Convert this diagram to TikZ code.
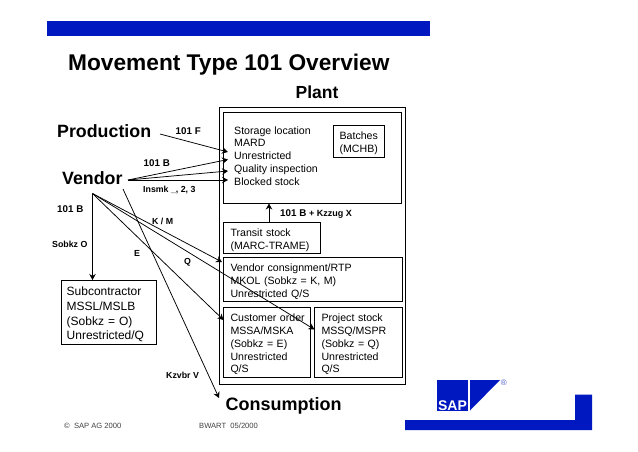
\documentclass[tikz,border=0pt]{standalone}
\usepackage{fontspec}
\setmainfont{Liberation Sans}
\usetikzlibrary{arrows.meta}
\definecolor{sapblue}{RGB}{0,24,192}
\newcommand{\fs}[1]{\fontsize{#1}{#1}\selectfont}
\newcommand{\topgap}[1]{\rule{0pt}{#1pt}}
\tikzset{
  x=1pt,y=-1pt,
  box/.style={draw=black,line width=0.8pt,anchor=north west,inner sep=0pt,outer sep=0pt},
  txtbox/.style={box,align=left,font=\fs{10.6},execute at begin node={\baselineskip=12.75pt}},
  flow/.style={draw=black,line width=0.75pt,-{Stealth[length=6pt,width=6.5pt]}},
  head/.style={font=\bfseries\fs{17.8},anchor=base west,inner sep=0pt},
  lab/.style={font=\bfseries\fs{9.8},anchor=base west,inner sep=0pt},
  smlab/.style={font=\bfseries\fs{8.8},anchor=base west,inner sep=0pt},
  foot/.style={font=\fs{7.6},text=black!75,anchor=base west,inner sep=0pt},
  fillblue/.style={fill=sapblue,draw=none}
}
\newcommand{\tbox}[6]{\node[txtbox,minimum width=#3pt,minimum height=#4pt,text width=#6pt] (#1) at #2 {\topgap{12.8}#5};}
\begin{document}
\begin{tikzpicture}
\useasboundingbox (0,0) rectangle (638,451);
% decoration
\fill[fillblue] (46.5,21) rectangle (430,36);
\fill[fillblue] (405,420) -- (575,420) -- (575,394.5) -- (592,394.5) -- (592,430) -- (405,430) -- cycle;
\fill[fillblue] (437.3,380) rectangle (467.7,410.5);
\fill[fillblue] (470,380) -- (500,380) -- (470,410.5) -- cycle;
\node[font=\bfseries\fs{14},text=white,inner sep=0pt,anchor=base] (saplogo) at (452.5,410) {SAP};
\node[font=\fs{8},text=sapblue!70,inner sep=0pt] (reg) at (503.7,383) {®};
% titles
\node[font=\bfseries\fs{22.7},anchor=base west,inner sep=0pt] (title) at (68,70) {Movement Type 101 Overview};
\node[font=\bfseries\fs{17.5},anchor=base,inner sep=0pt] (plant) at (317,98) {Plant};
% boxes
\node[box,minimum width=186pt,minimum height=276.5pt] (outer) at (219.5,107.5) {};
\node[box,minimum width=178pt,minimum height=90.5pt] (storage) at (223,112.5) {};
\node[anchor=north west,inner sep=0pt,align=left,font=\fs{10.6},execute at begin node={\baselineskip=12.75pt}] (storagetxt) at (234,126.3) {Storage location\\MARD\\Unrestricted\\Quality inspection\\Blocked stock};
\node[box,minimum width=50.5pt,minimum height=32pt,align=left,font=\fs{10.6},execute at begin node={\baselineskip=12.75pt}] (batches) at (333.5,125) {\topgap{12.8}Batches\\(MCHB)};
\tbox{transit}{(223,222)}{97}{31}{Transit stock\\\mbox{(MARC-TRAME)}}{82}
\tbox{consign}{(223,257)}{179}{44}{\mbox{Vendor consignment/RTP}\\\mbox{MKOL (Sobkz = K, M)}\\Unrestricted Q/S}{164}
\tbox{customer}{(223,307)}{87.5}{70}{\mbox{Customer order}\\MSSA/MSKA\\\mbox{(Sobkz = E)}\\Unrestricted\\Q/S}{72.5}
\tbox{project}{(314,307)}{88}{70}{\mbox{Project stock}\\MSSQ/MSPR\\\mbox{(Sobkz = Q)}\\Unrestricted\\Q/S}{73}
\node[box,minimum width=95pt,minimum height=64pt,text width=83.6pt,align=left,font=\fs{12},execute at begin node={\baselineskip=14.6pt}] (sub) at (61,280) {\topgap{14}Subcontractor\\MSSL/MSLB\\\mbox{(Sobkz = O)}\\\mbox{Unrestricted/Q}};
% heads
\node[head] (production) at (57,137.5) {Production};
\node[head] (vendor) at (62,184) {Vendor};
\node[font=\bfseries\fs{18},anchor=base west,inner sep=0pt] (consumption) at (225.5,410.5) {Consumption};
% free ends
\coordinate (p0) at (160,134);
\coordinate (pU) at (228,152);
\coordinate (v0) at (128,180);
\coordinate (vU) at (228,159.5);
\coordinate (vQ) at (228,171);
\coordinate (vB) at (228,180);
\coordinate (w0) at (92.5,193.5);
\coordinate (k0) at (123,189);
\coordinate (kE) at (219,398);
\coordinate (subT) at (92.5,280);
\coordinate (consT) at (222,262);
\coordinate (custT) at (223.5,320);
\coordinate (projT) at (314.5,329.5);
\coordinate (trT) at (269,221.5);
\coordinate (stB) at (269,203.5);
% connectors
\draw[flow] (p0) -- (pU);
\draw[flow] (v0) -- (vU);
\draw[flow] (v0) -- (vQ);
\draw[flow] (v0) -- (vB);
\draw[flow] (w0) -- (subT);
\draw[flow] (w0) -- (consT);
\draw[flow] (w0) -- (projT);
\draw[flow] (w0) -- (custT);
\draw[flow] (k0) -- (kE);
\draw[flow] (trT) -- (stB);
% labels
\node[lab] (l1) at (175.5,134) {101 F};
\node[lab] (l2) at (143.5,166) {101 B};
\node[smlab] (l3) at (143,192.5) {Insmk \_, 2, 3};
\node[lab] (l4) at (57,212.5) {101 B};
\node[smlab] (l5) at (152,224) {K / M};
\node[smlab] (l6) at (52,247) {Sobkz O};
\node[smlab] (l7) at (134,256.5) {E};
\node[smlab] (l8) at (184,264.5) {Q};
\node[smlab] (l9) at (166,378) {Kzvbr V};
\node[lab] (l10) at (280,216) {101 B {\fs{9}+ Kzzug X}};
% footer
\node[foot] (f1) at (64,428) {©\ \ SAP AG 2000};
\node[foot] (f2) at (199,428) {BWART\ \ 05/2000};
\end{tikzpicture}
\end{document}
